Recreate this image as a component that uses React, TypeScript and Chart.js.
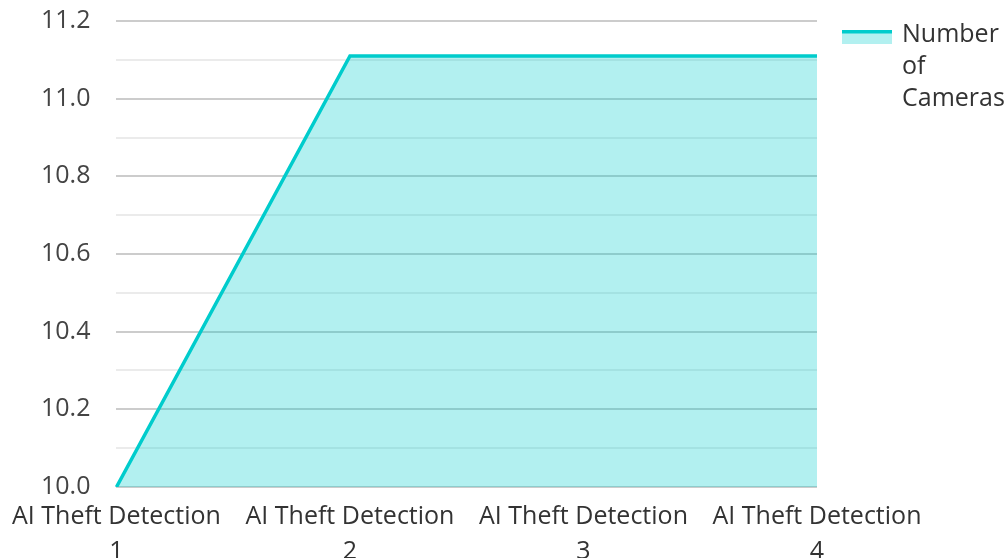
import React, { useEffect, useRef } from "react";
import { Chart, registerables } from "chart.js";

Chart.register(...registerables);

const categories: string[][] = [
  ["AI Theft Detection", "1"],
  ["AI Theft Detection", "2"],
  ["AI Theft Detection", "3"],
  ["AI Theft Detection", "4"],
];
const cameraCounts: number[] = [10, 11.11, 11.11, 11.11];
const seriesLabel = "Number of Cameras";
const legendLines: string[] = ["Number", "of", "Cameras"];
const yMin = 10;
const yMax = 11.2;
const yStep = 0.1;

const LINE = "rgb(0,204,204)";
const FILL = "rgba(0,204,204,0.3)";
const FONT = "'Open Sans', 'Noto Sans', sans-serif";

const customLegend = {
  id: "customLegend",
  afterDraw(chart: any) {
    const ctx = chart.ctx as CanvasRenderingContext2D;
    const ds = chart.data.datasets[0];
    const x = chart.chartArea.right + 25;
    const y = 30;
    const w = 50;
    const h = 14;
    ctx.save();
    ctx.fillStyle = ds.backgroundColor;
    ctx.fillRect(x, y, w, h);
    ctx.fillStyle = ds.borderColor;
    ctx.fillRect(x, y, w, 3.5);
    ctx.fillStyle = "#333333";
    ctx.font = `25px ${FONT}`;
    ctx.textBaseline = "alphabetic";
    ctx.textAlign = "left";
    legendLines.forEach((line, i) => {
      ctx.fillText(line, x + 60, 42 + i * 32);
    });
    ctx.restore();
  },
};

export default function App() {
  const ref = useRef<HTMLCanvasElement | null>(null);
  useEffect(() => {
    if (!ref.current) return;
    const chart = new Chart(ref.current, {
      type: "line",
      data: {
        labels: categories,
        datasets: [
          {
            label: seriesLabel,
            data: cameraCounts,
            borderColor: LINE,
            backgroundColor: FILL,
            borderWidth: 3.5,
            fill: "start",
            tension: 0,
            pointRadius: 0,
            pointHoverRadius: 0,
          },
        ],
      },
      options: {
        animation: false,
        responsive: true,
        maintainAspectRatio: false,
        layout: { padding: { top: 21, right: 190, left: 0, bottom: 0 } },
        plugins: {
          legend: { display: false },
          tooltip: { enabled: false },
        },
        scales: {
          x: {
            grid: { display: false, drawTicks: false },
            border: { display: false },
            ticks: {
              color: "#333333",
              font: { family: FONT, size: 25, lineHeight: 1.42 },
              padding: 12,
              maxRotation: 0,
              autoSkip: false,
            },
            afterFit: (scale: any) => {
              scale.height = 71;
            },
          },
          y: {
            min: yMin,
            max: yMax,
            grid: {
              drawTicks: false,
              lineWidth: 2,
              color: (c: any) => (c.index % 2 === 0 ? "#cccccc" : "#ebebeb"),
            },
            border: { display: false },
            ticks: {
              stepSize: yStep,
              color: "#444444",
              font: { family: FONT, size: 25 },
              padding: 26,
              autoSkip: false,
              callback: (v: any, i: number) => (i % 2 === 0 ? Number(v).toFixed(1) : ""),
            },
            afterFit: (scale: any) => {
              scale.width = 115;
              scale.paddingTop = 0;
              scale.paddingBottom = 0;
            },
          },
        },
      },
      plugins: [customLegend],
    });
    return () => chart.destroy();
  }, []);
  return (
    <div style={{ position: "fixed", left: 0, top: 0, width: 1007, height: 558 }}>
      <canvas ref={ref} />
    </div>
  );
}
